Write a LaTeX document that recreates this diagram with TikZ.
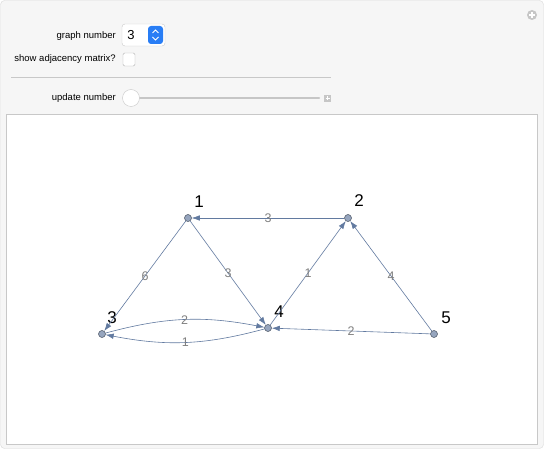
\documentclass[tikz,border=0pt]{standalone}
\usepackage{fontspec}
\setsansfont{Liberation Sans}
\usetikzlibrary{arrows.meta}

\definecolor{panelgray}{RGB}{246,246,246}
\definecolor{framegray}{RGB}{200,200,200}
\definecolor{edgeblue}{RGB}{98,122,160}
\definecolor{vertfill}{RGB}{150,165,190}
\definecolor{vertline}{RGB}{70,80,95}
\definecolor{btnblue}{RGB}{40,125,245}

\begin{document}
\begin{tikzpicture}[x=1pt,y=-1pt,
  ui/.style={font=\sffamily\fontsize{9.5}{11}\selectfont,anchor=east,inner sep=0pt},
  vert/.style={circle,draw=vertline,fill=vertfill,line width=0.5pt,inner sep=0pt,minimum size=7pt},
  vlab/.style={font=\sffamily\fontsize{17}{17}\selectfont,inner sep=0pt},
  elab/.style={font=\sffamily\fontsize{12.5}{12.5}\selectfont,text=gray,inner sep=0pt},
  wedge/.style={draw=edgeblue,line width=0.6pt,-{Latex[length=8pt,width=5.5pt]}}]

\useasboundingbox (0,0) rectangle (544,449);

\def\outerpanel{(0.5,0.5) rectangle (543.5,448.5)}
\def\plotbox{(6,114) rectangle (537,444)}

% panel and plot area
\fill[panelgray,draw=framegray!70,rounded corners=4pt] \outerpanel;
\draw[framegray,fill=white,line width=0.8pt] \plotbox;

% corner icon
\fill[gray!45] (532,15) circle (5);
\draw[white,line width=1.2pt] (529,15) -- (535,15) (532,12) -- (532,18);

% controls
\node[ui] (lgraph) at (116,36) {graph number};
\node[ui] (lshow) at (116,59) {show adjacency matrix?};
\node[ui] (lupdate) at (116,98) {update number};

\draw[framegray,fill=white,rounded corners=3pt] (122,24) rectangle (165,46);
\fill[btnblue,rounded corners=3pt] (148,26) rectangle (163,44);
\draw[white,line width=0.9pt] (152.5,33) -- (155.5,30) -- (158.5,33)
  (152.5,37) -- (155.5,40) -- (158.5,37);
\node[font=\sffamily\fontsize{13}{13}\selectfont,inner sep=0pt] (gnum) at (131,35) {3};

\draw[gray!60,fill=white,rounded corners=1.5pt] (123,53) rectangle (135,66);

\draw[framegray] (11,77) -- (331,77);

\draw[gray!45,line width=2.5pt,line cap=round] (124,98) -- (319,98);
\draw[framegray,fill=white] (131,98) circle (8.5);
\fill[gray!45] (324,95) rectangle (331,102);
\draw[white,line width=1pt] (325.5,98.5) -- (329.5,98.5) (327.5,96.5) -- (327.5,100.5);

% graph
\node[vert] (v1) at (188,218) {};
\node[vert] (v2) at (348,218) {};
\node[vert] (v3) at (102,334) {};
\node[vert] (v4) at (268,328) {};
\node[vert] (v5) at (434,334) {};

\node[vlab] (l1) at (199,202) {1};
\node[vlab] (l2) at (359,201) {2};
\node[vlab] (l3) at (112,318) {3};
\node[vlab] (l4) at (279,312) {4};
\node[vlab] (l5) at (446,318) {5};

\draw[wedge] (v2) -- node[elab] {3} (v1);
\draw[wedge] (v1) -- node[elab] {6} (v3);
\draw[wedge] (v1) -- node[elab] {3} (v4);
\draw[wedge] (v4) -- node[elab] {1} (v2);
\draw[wedge] (v5) -- node[elab] {4} (v2);
\draw[wedge] (v5) -- node[elab] {2} (v4);
\draw[wedge] (v3) to[bend left=13] node[elab] {2} (v4);
\draw[wedge] (v4) to[bend left=13] node[elab] {1} (v3);

\end{tikzpicture}
\end{document}
